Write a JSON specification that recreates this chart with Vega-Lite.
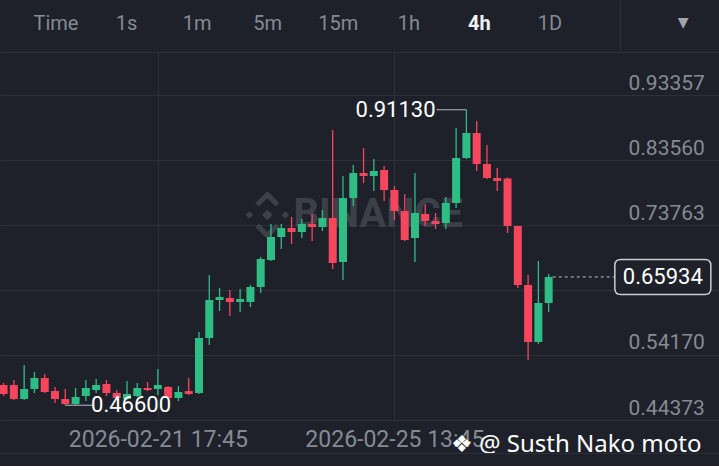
{
  "$schema": "https://vega.github.io/schema/vega-lite/v6.json",
  "background": "#1e2129",
  "padding": {"left": 0, "right": 0, "top": 0, "bottom": 10},
  "spacing": 0,
  "bounds": "flush",
  "config": {"view": {"stroke": null}, "font": "Roboto"},
  "datasets": {
    "candles": [
      {"t": "2026-02-19T05:45:00Z", "o": 0.49649, "h": 0.49950, "l": 0.47991, "c": 0.48292},
      {"t": "2026-02-19T09:45:00Z", "o": 0.49649, "h": 0.50402, "l": 0.47388, "c": 0.47538},
      {"t": "2026-02-19T13:45:00Z", "o": 0.47538, "h": 0.52663, "l": 0.47388, "c": 0.49046},
      {"t": "2026-02-19T17:45:00Z", "o": 0.49046, "h": 0.51608, "l": 0.48443, "c": 0.50704},
      {"t": "2026-02-19T21:45:00Z", "o": 0.50704, "h": 0.51306, "l": 0.48443, "c": 0.48593},
      {"t": "2026-02-20T01:45:00Z", "o": 0.48744, "h": 0.49347, "l": 0.46936, "c": 0.47538},
      {"t": "2026-02-20T05:45:00Z", "o": 0.47538, "h": 0.49046, "l": 0.46600, "c": 0.46785},
      {"t": "2026-02-20T09:45:00Z", "o": 0.46785, "h": 0.49196, "l": 0.46634, "c": 0.47840},
      {"t": "2026-02-20T13:45:00Z", "o": 0.47991, "h": 0.50402, "l": 0.47237, "c": 0.49196},
      {"t": "2026-02-20T17:45:00Z", "o": 0.48895, "h": 0.50553, "l": 0.48443, "c": 0.49649},
      {"t": "2026-02-20T21:45:00Z", "o": 0.49799, "h": 0.50402, "l": 0.47991, "c": 0.48443},
      {"t": "2026-02-21T01:45:00Z", "o": 0.48443, "h": 0.48895, "l": 0.47538, "c": 0.47689},
      {"t": "2026-02-21T05:45:00Z", "o": 0.47538, "h": 0.50251, "l": 0.47388, "c": 0.48292},
      {"t": "2026-02-21T09:45:00Z", "o": 0.47991, "h": 0.49950, "l": 0.47840, "c": 0.49196},
      {"t": "2026-02-21T13:45:00Z", "o": 0.49196, "h": 0.50101, "l": 0.48744, "c": 0.48895},
      {"t": "2026-02-21T17:45:00Z", "o": 0.49046, "h": 0.52060, "l": 0.48141, "c": 0.49649},
      {"t": "2026-02-21T21:45:00Z", "o": 0.49347, "h": 0.49498, "l": 0.47538, "c": 0.47689},
      {"t": "2026-02-22T01:45:00Z", "o": 0.47689, "h": 0.49498, "l": 0.47237, "c": 0.48593},
      {"t": "2026-02-22T05:45:00Z", "o": 0.48744, "h": 0.50704, "l": 0.48141, "c": 0.48292},
      {"t": "2026-02-22T09:45:00Z", "o": 0.48443, "h": 0.57637, "l": 0.48292, "c": 0.56732},
      {"t": "2026-02-22T13:45:00Z", "o": 0.56732, "h": 0.66228, "l": 0.55677, "c": 0.62460},
      {"t": "2026-02-22T17:45:00Z", "o": 0.62460, "h": 0.64268, "l": 0.60802, "c": 0.62912},
      {"t": "2026-02-22T21:45:00Z", "o": 0.62761, "h": 0.63967, "l": 0.60048, "c": 0.62158},
      {"t": "2026-02-23T01:45:00Z", "o": 0.62158, "h": 0.64118, "l": 0.60651, "c": 0.62610},
      {"t": "2026-02-23T05:45:00Z", "o": 0.62158, "h": 0.64721, "l": 0.61405, "c": 0.64419},
      {"t": "2026-02-23T09:45:00Z", "o": 0.64419, "h": 0.68941, "l": 0.63515, "c": 0.68639},
      {"t": "2026-02-23T13:45:00Z", "o": 0.68489, "h": 0.73914, "l": 0.68338, "c": 0.71955},
      {"t": "2026-02-23T17:45:00Z", "o": 0.71955, "h": 0.73914, "l": 0.70146, "c": 0.73312},
      {"t": "2026-02-23T21:45:00Z", "o": 0.73312, "h": 0.74969, "l": 0.70900, "c": 0.72709},
      {"t": "2026-02-24T01:45:00Z", "o": 0.72709, "h": 0.74668, "l": 0.71804, "c": 0.73914},
      {"t": "2026-02-24T05:45:00Z", "o": 0.73914, "h": 0.75422, "l": 0.71352, "c": 0.73462},
      {"t": "2026-02-24T09:45:00Z", "o": 0.73462, "h": 0.76025, "l": 0.72859, "c": 0.74819},
      {"t": "2026-02-24T13:45:00Z", "o": 0.74819, "h": 0.88082, "l": 0.67132, "c": 0.68036},
      {"t": "2026-02-24T17:45:00Z", "o": 0.68187, "h": 0.81149, "l": 0.65474, "c": 0.77833},
      {"t": "2026-02-24T21:45:00Z", "o": 0.77833, "h": 0.82807, "l": 0.76627, "c": 0.81601},
      {"t": "2026-02-25T01:45:00Z", "o": 0.81601, "h": 0.85369, "l": 0.80094, "c": 0.81149},
      {"t": "2026-02-25T05:45:00Z", "o": 0.81149, "h": 0.83711, "l": 0.78888, "c": 0.81903},
      {"t": "2026-02-25T09:45:00Z", "o": 0.82053, "h": 0.82656, "l": 0.77381, "c": 0.79039},
      {"t": "2026-02-25T13:45:00Z", "o": 0.79039, "h": 0.79642, "l": 0.74517, "c": 0.75874},
      {"t": "2026-02-25T17:45:00Z", "o": 0.75874, "h": 0.78436, "l": 0.71352, "c": 0.71503},
      {"t": "2026-02-25T21:45:00Z", "o": 0.71804, "h": 0.81601, "l": 0.68187, "c": 0.75572},
      {"t": "2026-02-26T01:45:00Z", "o": 0.75422, "h": 0.76929, "l": 0.73613, "c": 0.74367},
      {"t": "2026-02-26T05:45:00Z", "o": 0.74367, "h": 0.75572, "l": 0.73161, "c": 0.73914},
      {"t": "2026-02-26T09:45:00Z", "o": 0.74065, "h": 0.77984, "l": 0.73161, "c": 0.77080},
      {"t": "2026-02-26T13:45:00Z", "o": 0.77080, "h": 0.88384, "l": 0.76326, "c": 0.83862},
      {"t": "2026-02-26T17:45:00Z", "o": 0.83862, "h": 0.91130, "l": 0.83711, "c": 0.87630},
      {"t": "2026-02-26T21:45:00Z", "o": 0.87630, "h": 0.89439, "l": 0.81903, "c": 0.82958},
      {"t": "2026-02-27T01:45:00Z", "o": 0.82958, "h": 0.85821, "l": 0.80697, "c": 0.80848},
      {"t": "2026-02-27T05:45:00Z", "o": 0.80848, "h": 0.82355, "l": 0.78888, "c": 0.80395},
      {"t": "2026-02-27T09:45:00Z", "o": 0.80772, "h": 0.80923, "l": 0.72558, "c": 0.73613},
      {"t": "2026-02-27T13:45:00Z", "o": 0.73613, "h": 0.73613, "l": 0.64268, "c": 0.64721},
      {"t": "2026-02-27T17:45:00Z", "o": 0.64721, "h": 0.66228, "l": 0.53417, "c": 0.56129},
      {"t": "2026-02-27T21:45:00Z", "o": 0.56129, "h": 0.68338, "l": 0.55828, "c": 0.62008},
      {"t": "2026-02-28T01:45:00Z", "o": 0.62008, "h": 0.66378, "l": 0.60651, "c": 0.65934}
    ],
    "extremes": [
      {"kind": "high", "t": "2026-02-26T17:45:00Z", "p": 0.9113},
      {"kind": "low", "t": "2026-02-20T05:45:00Z", "p": 0.466}
    ],
    "intervals": [
      {"item": "Time"}, {"item": "1s"}, {"item": "1m"}, {"item": "5m"}, {"item": "15m"},
      {"item": "1h"}, {"item": "4h"}, {"item": "1D"}, {"item": "▼"}
    ]
  },
  "vconcat": [
    {
      "width": 719,
      "height": 51,
      "data": {"name": "intervals"},
      "encoding": {
        "x": {
          "field": "item",
          "type": "nominal",
          "scale": {
            "type": "point",
            "domain": ["Time", "1s", "1m", "5m", "15m", "1h", "4h", "1D", "|", "▼"],
            "padding": 0.594,
            "align": 0.667
          },
          "axis": {"labels": false, "ticks": false, "grid": false, "domain": true, "domainColor": "#2b3039", "title": null}
        }
      },
      "layer": [
        {
          "transform": [{"filter": "datum.item != '4h' && datum.item != '▼'"}],
          "mark": {"type": "text", "fontSize": 20, "color": "#858b95", "dy": -3},
          "encoding": {"text": {"field": "item"}}
        },
        {
          "transform": [{"filter": "datum.item == '4h'"}],
          "mark": {"type": "text", "fontSize": 20, "fontWeight": "bold", "color": "#f0f1f3", "dy": -3},
          "encoding": {"text": {"field": "item"}}
        },
        {
          "transform": [{"filter": "datum.item == '▼'"}],
          "mark": {"type": "text", "fontSize": 14, "color": "#a0a5ad", "font": "DejaVu Sans", "dy": -4, "dx": -8},
          "encoding": {"text": {"field": "item"}}
        },
        {
          "mark": {"type": "rule", "color": "#2b3039", "strokeWidth": 1},
          "encoding": {"x": {"datum": "|", "type": "nominal"}}
        }
      ]
    },
    {
      "width": 719,
      "height": 368,
      "layer": [
        {
          "data": {"values": [{}]},
          "mark": {
            "type": "point",
            "filled": true,
            "color": "#3c4149",
            "opacity": 1,
            "size": 2304,
            "shape": "M0,-1 L0.5,-0.5 L0.35,-0.35 L0,-0.7 L-0.35,-0.35 L-0.5,-0.5 Z M0,1 L0.5,0.5 L0.35,0.35 L0,0.7 L-0.35,0.35 L-0.5,0.5 Z M0,-0.22 L0.22,0 L0,0.22 L-0.22,0 Z M-0.75,-0.16 L-0.59,0 L-0.75,0.16 L-0.91,0 Z M0.75,-0.16 L0.91,0 L0.75,0.16 L0.59,0 Z"
          },
          "encoding": {
            "x": {"datum": {"year": 2026, "month": 2, "date": 23, "hours": 12, "minutes": 19, "utc": true}, "type": "temporal"},
            "y": {"datum": 0.75271, "type": "quantitative"}
          }
        },
        {
          "data": {"values": [{}]},
          "mark": {"type": "text", "text": "BINANCE", "fontSize": 40, "fontWeight": "bold", "color": "#3c4149", "align": "center", "baseline": "middle"},
          "encoding": {
            "x": {"datum": {"year": 2026, "month": 2, "date": 25, "hours": 7, "minutes": 30, "utc": true}, "type": "temporal"},
            "y": {"datum": 0.75271, "type": "quantitative"}
          }
        },
        {
          "data": {"name": "candles"},
          "mark": {"type": "rule", "clip": true, "strokeWidth": 1.3},
          "encoding": {
            "x": {
              "field": "t",
              "type": "temporal",
              "scale": {
                "type": "utc",
                "domain": [
                  {"year": 2026, "month": 2, "date": 19, "hours": 6, "minutes": 18, "utc": true},
                  {"year": 2026, "month": 3, "date": 2, "hours": 18, "minutes": 3, "utc": true}
                ]
              },
              "axis": {
                "values": [
                  {"year": 2026, "month": 2, "date": 21, "hours": 17, "minutes": 45, "utc": true},
                  {"year": 2026, "month": 2, "date": 25, "hours": 13, "minutes": 45, "utc": true}
                ],
                "format": "%Y-%m-%d %H:%M",
                "grid": true,
                "gridColor": "#2b3039",
                "domain": true,
                "domainColor": "#2b3039",
                "ticks": false,
                "labelColor": "#858b95",
                "labelFontSize": 23,
                "labelPadding": 8,
                "labelFlush": false,
                "labelOverlap": false,
                "minExtent": 33,
                "maxExtent": 33,
                "title": "❖ @ Susth Nako moto\u2800",
                "titleColor": "#ffffff",
                "titleFont": "Noto Sans",
                "titleFontSize": 24,
                "titleFontWeight": "normal",
                "titleAnchor": "end",
                "titleBaseline": "top",
                "titlePadding": -21
              }
            },
            "y": {
              "field": "l",
              "type": "quantitative",
              "scale": {"domain": [0.44373, 0.99838], "zero": false, "nice": false},
              "axis": {
                "orient": "right",
                "offset": -91,
                "values": [0.44373, 0.5417, 0.63966, 0.73763, 0.8356, 0.93357],
                "format": ".5f",
                "labelExpr": "datum.value > 0.63 && datum.value < 0.65 ? '' : datum.label",
                "grid": true,
                "gridColor": "#2b3039",
                "domain": false,
                "ticks": false,
                "tickSize": 0,
                "labelAlign": "left",
                "labelPadding": 0,
                "labelOffset": -12,
                "labelColor": "#858b95",
                "labelFontSize": 21,
                "labelFlush": false,
                "labelOverlap": false,
                "title": null
              }
            },
            "y2": {"field": "h"},
            "color": {"condition": {"test": "datum.c >= datum.o", "value": "#2ebd85"}, "value": "#f6465d"}
          }
        },
        {
          "data": {"name": "candles"},
          "mark": {"type": "bar", "clip": true, "width": 8},
          "encoding": {
            "x": {"field": "t", "type": "temporal"},
            "y": {"field": "o", "type": "quantitative"},
            "y2": {"field": "c"},
            "color": {"condition": {"test": "datum.c >= datum.o", "value": "#2ebd85"}, "value": "#f6465d"}
          }
        },
        {
          "data": {"values": [{}]},
          "mark": {"type": "rule", "color": "#b7bdc6", "strokeWidth": 1, "strokeDash": [3, 3]},
          "encoding": {
            "x": {"datum": {"year": 2026, "month": 2, "date": 28, "hours": 3, "minutes": 21, "utc": true}, "type": "temporal"},
            "x2": {"datum": {"year": 2026, "month": 3, "date": 1, "hours": 3, "minutes": 45, "utc": true}},
            "y": {"datum": 0.65934, "type": "quantitative"}
          }
        },
        {
          "data": {"values": [{}]},
          "mark": {
            "type": "point",
            "filled": true,
            "fill": "#1e2129",
            "stroke": "#c9cdd3",
            "strokeWidth": 1.5,
            "opacity": 1,
            "size": 9216,
            "shape": "M-0.875,-0.365 L0.875,-0.365 Q1,-0.365 1,-0.24 L1,0.24 Q1,0.365 0.875,0.365 L-0.875,0.365 Q-1,0.365 -1,0.24 L-1,-0.24 Q-1,-0.365 -0.875,-0.365 Z"
          },
          "encoding": {
            "x": {"datum": {"year": 2026, "month": 3, "date": 1, "hours": 22, "minutes": 9, "utc": true}, "type": "temporal"},
            "y": {"datum": 0.65934, "type": "quantitative"}
          }
        },
        {
          "data": {"values": [{}]},
          "mark": {"type": "text", "text": "0.65934", "fontSize": 22, "color": "#ffffff", "align": "center", "baseline": "middle"},
          "encoding": {
            "x": {"datum": {"year": 2026, "month": 3, "date": 1, "hours": 22, "minutes": 9, "utc": true}, "type": "temporal"},
            "y": {"datum": 0.65934, "type": "quantitative"}
          }
        },
        {
          "data": {"name": "extremes"},
          "transform": [{"filter": "datum.kind == 'high'"}],
          "layer": [
            {
              "mark": {"type": "rule", "color": "#b7bdc6", "strokeWidth": 1},
              "encoding": {
                "x": {"field": "t", "type": "temporal"},
                "x2": {"datum": {"year": 2026, "month": 2, "date": 26, "hours": 6, "minutes": 9, "utc": true}},
                "y": {"field": "p", "type": "quantitative"}
              }
            },
            {
              "mark": {"type": "text", "fontSize": 22, "color": "#ffffff", "align": "right", "baseline": "middle", "dx": -1},
              "encoding": {
                "x": {"datum": {"year": 2026, "month": 2, "date": 26, "hours": 6, "minutes": 9, "utc": true}, "type": "temporal"},
                "y": {"field": "p", "type": "quantitative"},
                "text": {"field": "p", "format": ".5f"}
              }
            }
          ]
        },
        {
          "data": {"name": "extremes"},
          "transform": [{"filter": "datum.kind == 'low'"}],
          "layer": [
            {
              "mark": {"type": "rule", "color": "#b7bdc6", "strokeWidth": 1},
              "encoding": {
                "x": {"field": "t", "type": "temporal"},
                "x2": {"datum": {"year": 2026, "month": 2, "date": 20, "hours": 16, "minutes": 33, "utc": true}},
                "y": {"field": "p", "type": "quantitative"}
              }
            },
            {
              "mark": {"type": "text", "fontSize": 22, "color": "#ffffff", "align": "left", "baseline": "middle", "dx": -2},
              "encoding": {
                "x": {"datum": {"year": 2026, "month": 2, "date": 20, "hours": 16, "minutes": 33, "utc": true}, "type": "temporal"},
                "y": {"field": "p", "type": "quantitative"},
                "text": {"field": "p", "format": ".5f"}
              }
            }
          ]
        }
      ]
    },
    {
      "width": 719,
      "height": 33,
      "data": {"values": [{}]},
      "mark": {"type": "rule", "opacity": 0},
      "encoding": {
        "x": {
          "datum": 0,
          "type": "quantitative",
          "scale": {"domain": [0, 1]},
          "axis": {"labels": false, "ticks": false, "grid": false, "domain": true, "domainColor": "#2b3039", "title": null}
        }
      }
    }
  ]
}
